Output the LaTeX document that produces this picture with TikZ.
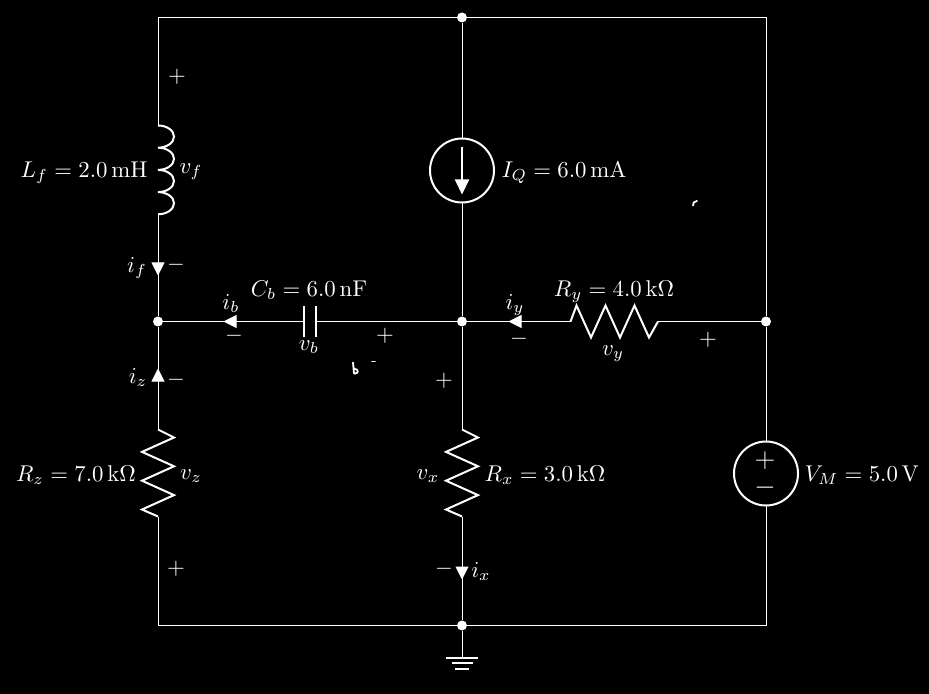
\documentclass[tikz,border=0pt]{standalone}
\usepackage{amsmath}
\usetikzlibrary{arrows.meta}

\begin{document}
\begin{tikzpicture}
[x=0.5pt,y=-0.5pt,color=white,
  lineDecorate/.style={-,line width=0.5pt},
  partDecorate/.style={line width=1pt},
  scribbleDecorate/.style={line width=0.9pt,line cap=round,line join=round},
  nodeDecorate/.style={shape=circle,fill=white,inner sep=0pt,minimum size=5pt},
  labelDecorate/.style={anchor=base,inner sep=0pt,scale=1.14,yshift=-0.3pt},
  tipDecorate/.style={-{Triangle[length=6.5pt,width=6.5pt]},line width=0.5pt}]
\fill[black] (0,-0.5) rectangle (929,693.5);
%% junctions
\foreach \nodename/\x/\y in {
  nTop/462/17, nLeft/158/321, nMid/462/321, nRight/766/321, nBot/462/625}
{
  \node (\nodename) at (\x,\y) [nodeDecorate] {};
}
%% corners and ends of the parts
\foreach \nodename/\x/\y in {
  cTL/158/17, cTR/766/17, cBL/158/625, cBR/766/625,
  LfA/158/125, LfB/158/214, IqA/462/138, IqB/462/202,
  CbA/304/321, CbB/316/321, RyA/570.5/321, RyB/658/321,
  RzA/158/429, RzB/158/516, RxA/462/429, RxB/462/516,
  VmA/766/441, VmB/766/505, gnd/462/657,
  IqTipA/462/147, IqTipB/462/194,
  ifA/158/255, ifB/158/275, izA/158/390, izB/158/368,
  ibA/250/321, ibB/223.5/321, iyA/540/321, iyB/508.5/321,
  ixA/462/550, ixB/462/579}
{
  \coordinate (\nodename) at (\x,\y);
}
%% wires
\path
\foreach \startnode/\endnode in {
  cTL/nTop, nTop/cTR, cTL/LfA, LfB/nLeft, nLeft/RzA, RzB/cBL, cBL/nBot,
  nBot/cBR, nTop/IqA, IqB/nMid, nMid/RxA, RxB/nBot, nBot/gnd, cTR/nRight,
  nRight/VmA, VmB/cBR, nLeft/CbA, CbB/nMid, nMid/RyA, RyB/nRight}
{
  (\startnode) edge[lineDecorate] (\endnode)
};
%% current arrows
\foreach \startnode/\endnode in {ifA/ifB, izA/izB, ibA/ibB, iyA/iyB, ixA/ixB}
{
  \draw[tipDecorate] (\startnode) -- (\endnode);
}
\draw[partDecorate,-{Triangle[length=7.5pt,width=7pt]}] (IqTipA) -- (IqTipB);
%% sources
\draw[partDecorate] (462,170) circle (32);
\draw[partDecorate] (766,473) circle (32);
%% capacitor
\draw[partDecorate] (304,306) -- (304,337) (316,306) -- (316,337);
%% inductor
\draw[partDecorate] (LfA)
\foreach \i in {1,...,4} {arc[start angle=-90,end angle=90,x radius=16,y radius=11.1]};
%% resistors
\draw[partDecorate] (RyA) -- ++(6,-16)
\foreach \i in {1,2} {-- ++(14.5,32) -- ++(14.5,-32)} -- ++(14.5,32) -- (RyB);
\foreach \startnode/\endnode in {RzA/RzB, RxA/RxB}
{
  \draw[partDecorate] (\startnode) -- ++(16,8)
  \foreach \i in {1,2} {-- ++(-32,14.4) -- ++(32,14.4)} -- ++(-32,14.4) -- (\endnode);
}
%% ground
\draw[partDecorate] (446,657) -- (478,657) (452,662.5) -- (473,662.5) (455,668) -- (469,668);
%% stray marks
\draw[scribbleDecorate] (353,362) -- (354,373) .. controls (358,374) and (360,369) .. (354,368);
\draw[scribbleDecorate] (372,361) -- (375,361);
\draw[scribbleDecorate] (693,205) .. controls (693,202) and (694,201) .. (697,200.5);
%% labels
\foreach \nodename/\x/\y/\labeltext in {
  labLf/84/176/{$L_f = 2.0\,\mathrm{mH}$},
  labvf/191/172/{$v_f$},
  labif/137/271/{$i_f$},
  labiz/138/382/{$i_z$},
  labRz/76/480/{$R_z = 7.0\,\mathrm{k\Omega}$},
  labvz/191/478/{$v_z$},
  labCb/309/295/{$C_b = 6.0\,\mathrm{nF}$},
  labib/231/308/{$i_b$},
  labvb/309/349/{$v_b$},
  labIq/564/176/{$I_Q = 6.0\,\mathrm{mA}$},
  labiy/515/308/{$i_y$},
  labRy/614/295/{$R_y = 4.0\,\mathrm{k\Omega}$},
  labvy/613/354/{$v_y$},
  labvx/428/478/{$v_x$},
  labRx/545/480/{$R_x = 3.0\,\mathrm{k\Omega}$},
  labix/481/576/{$i_x$},
  labVm/862/480/{$V_M = 5.0\,\mathrm{V}$},
  labPf/177/81/{$+$},
  labMf/176/269/{$-$},
  labMz/176/384/{$-$},
  labPz/176/573/{$+$},
  labMb/234/340/{$-$},
  labPb/385/340/{$+$},
  labMy/519/343/{$-$},
  labPy/708/344/{$+$},
  labPx/444/385/{$+$},
  labMx/444/573/{$-$},
  labVs/765/493/{\large\shortstack{$+$\\[0.8pt]$-$}}}
{
  \node (\nodename) at (\x,\y) [labelDecorate] {\labeltext};
}
\end{tikzpicture}
\end{document}
